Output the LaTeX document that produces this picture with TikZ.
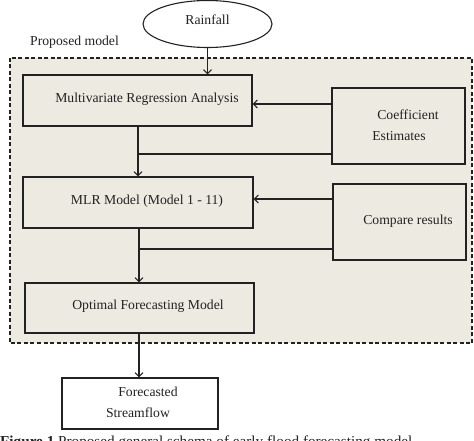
\documentclass[tikz,border=0pt]{standalone}
\usepackage{fontspec}
\setmainfont{Liberation Serif}
\usetikzlibrary{shapes.geometric,arrows.meta}
\definecolor{panel}{HTML}{EDEAE2}
\definecolor{ink}{HTML}{222222}
\tikzset{
  box/.style={draw=ink, line width=1.1pt, fill=panel, inner sep=0pt},
  wbox/.style={draw=ink, line width=1.1pt, fill=white, inner sep=0pt},
  conn/.style={draw=ink, line width=1.1pt},
  arr/.style={conn, -{Straight Barb[length=4pt,width=8pt]}},
  lbl/.style={font=\fontsize{13.7}{16}\selectfont, text=ink, inner sep=0pt}
}
\begin{document}
\begin{tikzpicture}[x=1pt,y=-1pt]
\clip (0,0) rectangle (474,441);
\useasboundingbox (0,0) rectangle (474,441);
% container
\draw[draw=ink, fill=panel, dashed, dash pattern=on 4pt off 2.5pt, line width=1.1pt] (10,58) rectangle (472,343);
\node[lbl, anchor=west] (pm) at (30,42) {Proposed model};
% nodes
\node[draw=ink, line width=1.1pt, fill=white, ellipse, minimum width=129pt, minimum height=47pt, inner sep=0pt] (rain) at (207.5,24) {};
\node[lbl] at (207.5,19.5) {Rainfall};
\node[box, minimum width=229pt, minimum height=51pt] (mra) at (137.5,100.5) {};
\node[lbl] at (147,99) {Multivariate Regression Analysis};
\node[box, minimum width=133pt, minimum height=76pt] (coef) at (398.5,126) {};
\node[lbl] at (408,115) {Coefficient};
\node[lbl] at (399,136) {Estimates};
\node[box, minimum width=230pt, minimum height=51pt] (mlr) at (138,202.5) {};
\node[lbl] at (147,201) {MLR Model (Model 1 - 11)};
\node[box, minimum width=133pt, minimum height=76pt] (cmp) at (399.5,222) {};
\node[lbl] at (408,221) {Compare results};
\node[box, minimum width=229pt, minimum height=50pt] (opt) at (139.5,308) {};
\node[lbl] at (148,306) {Optimal Forecasting Model};
\node[wbox, minimum width=156pt, minimum height=51pt] (fc) at (140,403.5) {};
\node[lbl] at (148,392) {Forecasted};
\node[lbl] at (138,413) {Streamflow};
% caption (cut off at bottom, as in the reference)
\node[lbl, font=\fontsize{15.2}{17}\selectfont, anchor=base west] (cap) at (0,446) {\textbf{Figure 1} Proposed general schema of early flood forecasting model};
% connectors
\draw[arr] (rain.south) -- (mra.north -| rain.south);
\draw[arr] (coef.west |- 0,104) -- (mra.east |- 0,104);
\coordinate (j1) at (138,154);
\draw[conn] (mra.south -| j1) -- (j1) -- (coef.west |- j1);
\draw[arr] (j1) -- (mlr.north -| j1);
\draw[arr] (cmp.west |- 0,199) -- (mlr.east |- 0,199);
\coordinate (j2) at (139,249);
\draw[conn] (mlr.south -| j2) -- (j2) -- (cmp.west |- j2);
\draw[arr] (j2) -- (opt.north -| j2);
\draw[arr] (opt.south -| j2) -- (fc.north -| j2);
\end{tikzpicture}
\end{document}
